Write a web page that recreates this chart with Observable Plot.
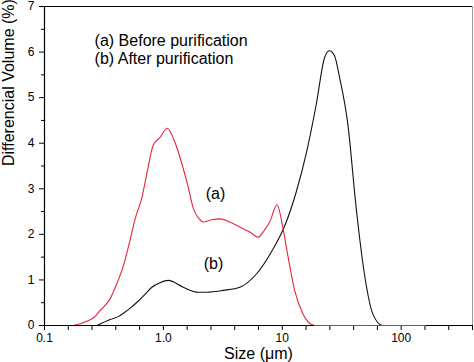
<!DOCTYPE html>
<html><head><meta charset="utf-8">
<script src="https://cdn.jsdelivr.net/npm/d3@7"></script>
<script src="https://cdn.jsdelivr.net/npm/@observablehq/plot@0.6"></script>
<style>body{margin:0;background:#fff;}</style>
</head><body><div id="chart"></div>
<script>
// (a) Before purification
const sizeA = [0.176, 0.20, 0.235, 0.259, 0.294, 0.357, 0.406, 0.462, 0.516, 0.58, 0.66, 0.734, 0.82, 0.937, 1.08, 1.25, 1.43, 1.62, 1.79, 2.0, 2.16, 2.55, 2.98, 3.62, 4.39, 5.33, 6.26, 7.11, 7.84, 9.03, 10.1, 11.2, 12.7, 14.9, 16.5, 18.7, 162];
const volA  = [0, 0.04, 0.11, 0.17, 0.33, 0.59, 0.92, 1.32, 1.8, 2.35, 2.81, 3.4, 3.95, 4.13, 4.33, 4.02, 3.55, 3.03, 2.56, 2.34, 2.27, 2.32, 2.34, 2.27, 2.16, 2.05, 1.94, 2.1, 2.27, 2.65, 2.16, 1.5, 0.77, 0.26, 0.08, 0, 0];
// (b) After purification
const sizeB = [0.277, 0.357, 0.42, 0.462, 0.526, 0.6, 0.703, 0.8, 0.937, 1.1, 1.47, 1.96, 2.31, 3.18, 4.39, 6.06, 8.36, 10.5, 13.1, 15.9, 19.3, 22.7, 24.9, 27.5, 30.3, 35.6, 41.8, 49.1, 57.6, 69.8, 162];
const volB  = [0, 0.13, 0.2, 0.27, 0.38, 0.51, 0.69, 0.84, 0.94, 0.99, 0.84, 0.73, 0.73, 0.77, 0.84, 1.13, 1.68, 2.19, 2.93, 3.77, 4.85, 5.88, 6.03, 5.92, 5.45, 4.42, 2.59, 1.13, 0.26, 0, 0];

const xMajorTicks = [0.1, 1, 10, 100];
const xMajorLabels = ["0.1", "1.0", "10", "100"];
const xMinorTicks = d3.range(-5, 14).map(k => Math.pow(10, k / 5));
const yMajorTicks = [0, 1, 2, 3, 4, 5, 6, 7];
const yMinorTicks = [0.5, 1.5, 2.5, 3.5, 4.5, 5.5, 6.5];
const legendTexts = ["(a) Before purification", "(b) After purification"];
const curveLabels = ["(a)", "(b)"];
const xTitle = "Size (\u03bcm)";
const yTitle = "Differencial Volume (%)";

const dataA = sizeA.map((s, i) => ({size: s, vol: volA[i]}));
const dataB = sizeB.map((s, i) => ({size: s, vol: volB[i]}));
const xMax = Math.pow(10, 2.6);
const font = '"Liberation Sans", Arial, sans-serif';

const xFmt = d => {
  const i = xMajorTicks.findIndex(t => Math.abs(Math.log10(t) - Math.log10(d)) < 1e-6);
  return i >= 0 ? xMajorLabels[i] : "";
};

const chart = Plot.plot({
  width: 474, height: 362,
  marginLeft: 44, marginRight: 2, marginTop: 6, marginBottom: 37,
  style: {fontFamily: font, fontSize: "12px", color: "#000", background: "#fff"},
  x: {type: "log", domain: [0.1, xMax]},
  y: {domain: [0, 7]},
  marks: [
    Plot.axisX({ticks: xMinorTicks, tickSize: 5, tickPadding: 3, tickFormat: xFmt, label: null, stroke: "#000"}),
    Plot.axisY({ticks: yMajorTicks, tickSize: 5, tickPadding: 5, tickFormat: d => String(d), label: null}),
    Plot.axisY({ticks: yMinorTicks, tickSize: 3, tickFormat: () => "", label: null}),
    Plot.ruleY([7], {stroke: "#000"}),
    Plot.ruleX([xMax], {stroke: "#999"}),
    Plot.line(dataB, {x: "size", y: "vol", stroke: "#111", strokeWidth: 1.1, curve: "monotone-x"}),
    Plot.line(dataA, {x: "size", y: "vol", stroke: "#e8253a", strokeWidth: 1.1, curve: "monotone-x"}),
    Plot.ruleX([0.1], {stroke: "#000", strokeWidth: 1.2}),
    Plot.ruleY([0], {stroke: "#000", strokeWidth: 1.2}),
    Plot.ruleY([0], {x1: 18.7, x2: 162, stroke: "#e8253a", strokeWidth: 1.1}),
    Plot.text(legendTexts, {x: [0.264, 0.264], y: [6.14, 5.73], text: d => d, textAnchor: "start", lineAnchor: "bottom", fontSize: 16, fill: "#000"}),
    Plot.text(curveLabels, {x: [2.74, 2.64], y: [2.765, 1.23], text: d => d, textAnchor: "middle", lineAnchor: "bottom", fontSize: 16, fill: "#000"}),
    Plot.text([xTitle], {frameAnchor: "bottom", dy: 33, lineAnchor: "bottom", fontSize: 16, fill: "#000"}),
    Plot.text([yTitle], {frameAnchor: "left", dx: -36, rotate: -90, fontSize: 16, fill: "#000"})
  ]
});
document.getElementById("chart").appendChild(chart);
</script>
</body></html>
